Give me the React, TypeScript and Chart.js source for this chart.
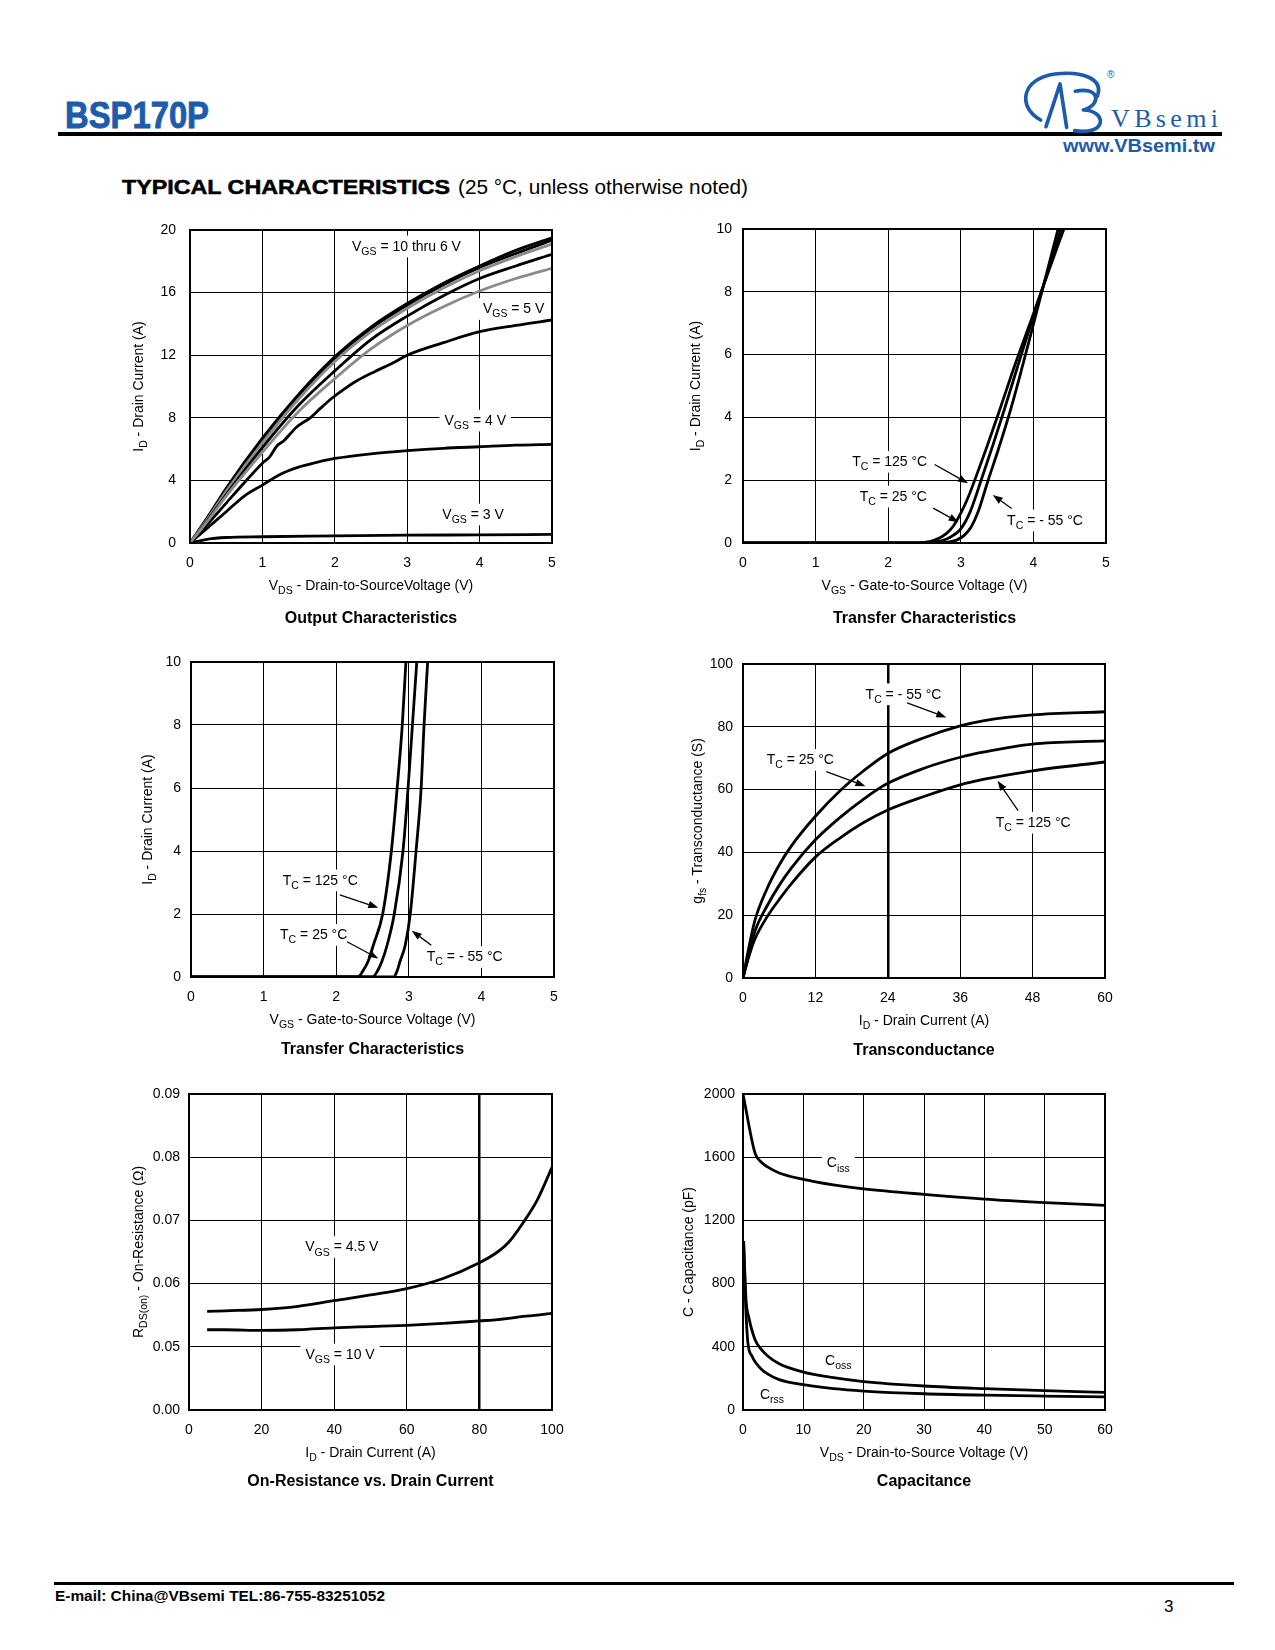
import React, { useEffect, useRef } from "react";
import { Chart, registerables } from "chart.js";

Chart.register(...registerables);

const FONT = '"Liberation Sans", Arial, Helvetica, sans-serif';
const BLUE = "#1d5cac";
const GRAY = "#8a8a8a";

// ================= 1. Output Characteristics =================
const OUT_X_AXIS = [0, 5, 1];
const OUT_Y_AXIS = [0, 20, 4];
const OUT_VDS = [0, 0.25, 0.5, 1, 1.5, 2, 2.5, 3, 3.5, 4, 4.5, 5];
const OUT_ID_10V = [0, 1.7, 3.5, 6.7, 9.5, 11.9, 13.8, 15.3, 16.6, 17.7, 18.7, 19.5];
const OUT_ID_8V = [0, 1.65, 3.4, 6.6, 9.4, 11.8, 13.7, 15.2, 16.5, 17.6, 18.5, 19.35];
const OUT_ID_7V = [0, 1.6, 3.3, 6.4, 9.2, 11.6, 13.5, 15.0, 16.3, 17.4, 18.3, 19.1];
const OUT_ID_6V = [0, 1.5, 3.1, 6.1, 8.8, 11.0, 13.0, 14.5, 15.8, 16.9, 17.7, 18.45];
const OUT_ID_55V = [0, 1.45, 3.0, 5.8, 8.4, 10.5, 12.4, 13.9, 15.1, 16.1, 16.9, 17.55];
const OUT_VDS_5V = [0, 0.28, 0.5, 0.74, 1.0, 1.1, 1.2, 1.3, 1.47, 1.66, 1.8, 1.96, 2.12, 2.3, 2.55, 2.8, 3.0, 3.5, 4.0, 4.5, 5.0];
const OUT_ID_5V = [0, 1.4, 2.55, 3.8, 5.1, 5.5, 6.2, 6.55, 7.4, 8.0, 8.6, 9.25, 9.8, 10.35, 10.95, 11.5, 12.0, 12.8, 13.5, 13.9, 14.25];
const OUT_VDS_4V = [0, 0.25, 0.5, 0.75, 1, 1.25, 1.5, 1.75, 2, 2.5, 3, 3.5, 4, 4.5, 5];
const OUT_ID_4V = [0, 1.0, 2.0, 3.0, 3.7, 4.4, 4.85, 5.15, 5.4, 5.7, 5.9, 6.05, 6.15, 6.25, 6.3];
const OUT_VDS_3V = [0, 0.25, 0.5, 1, 2, 3, 4, 5];
const OUT_ID_3V = [0, 0.25, 0.35, 0.4, 0.45, 0.5, 0.52, 0.55];

// ================= 2. Transfer Characteristics (top) =================
const TR1_X_AXIS = [0, 5, 1];
const TR1_Y_AXIS = [0, 10, 2];
const TR1_VGS_125 = [0, 2.3, 2.5, 2.65, 2.8, 2.9, 3.0, 3.1, 3.2, 3.35, 3.53, 3.75, 3.97, 4.2, 4.42];
const TR1_ID_125 = [0, 0, 0.02, 0.1, 0.3, 0.55, 0.95, 1.45, 2.05, 3.0, 4.2, 5.7, 7.1, 8.6, 10];
const TR1_VGS_25 = [0, 2.45, 2.65, 2.8, 2.9, 3.0, 3.13, 3.28, 3.44, 3.6, 3.78, 3.97, 4.18, 4.38];
const TR1_ID_25 = [0, 0, 0.03, 0.12, 0.25, 0.45, 1.0, 2.0, 3.1, 4.25, 5.6, 7.0, 8.5, 10];
const TR1_VGS_M55 = [0, 2.6, 2.8, 2.95, 3.05, 3.14, 3.24, 3.37, 3.52, 3.68, 3.84, 3.97, 4.15, 4.34];
const TR1_ID_M55 = [0, 0, 0.02, 0.1, 0.25, 0.5, 1.0, 1.95, 3.0, 4.2, 5.55, 6.7, 8.3, 10];

// ================= 3. Transfer Characteristics (middle) =================
const TR2_X_AXIS = [0, 5, 1];
const TR2_Y_AXIS = [0, 10, 2];
const TR2_ID = [0, 0, 0.2, 0.5, 1, 2, 4, 6, 8, 10];
const TR2_VGS_125 = [0, 2.3, 2.37, 2.44, 2.51, 2.64, 2.76, 2.84, 2.91, 2.96];
const TR2_VGS_25 = [0, 2.5, 2.57, 2.63, 2.7, 2.8, 2.92, 2.99, 3.05, 3.11];
const TR2_VGS_M55 = [0, 2.79, 2.84, 2.88, 2.95, 3.02, 3.1, 3.17, 3.21, 3.26];

// ================= 4. Transconductance =================
const GFS_X_AXIS = [0, 60, 12];
const GFS_Y_AXIS = [0, 100, 20];
const GFS_ID = [0, 1, 2, 4, 6, 8, 12, 16, 20, 24, 30, 36, 40, 48, 60];
const GFS_M55 = [0, 10, 18.5, 28.5, 36, 42, 51.5, 59.5, 66, 71.5, 76.5, 80.3, 82, 83.8, 84.8];
const GFS_25 = [0, 8, 15, 23, 29.5, 35, 44, 51, 57, 62, 66.8, 70.3, 72, 74.5, 75.5];
const GFS_125 = [0, 7, 12.5, 19.5, 25, 30, 38.5, 44.5, 49.5, 53.5, 57.8, 61.5, 63.3, 66, 68.8];

// ================= 5. On-Resistance vs. Drain Current =================
const RDS_X_AXIS = [0, 100, 20];
const RDS_Y_AXIS = [0.04, 0.09, 0.01];
const RDS_ID = [5, 10, 20, 30, 40, 50, 60, 70, 80, 85, 88, 92, 96, 100];
const RDS_45V = [0.0556, 0.0557, 0.0559, 0.0564, 0.0573, 0.0582, 0.0592, 0.0608, 0.0633, 0.065, 0.0665, 0.0696, 0.0733, 0.0784];
const RDS_10V = [0.0527, 0.0527, 0.0526, 0.0527, 0.053, 0.0532, 0.0534, 0.0537, 0.0541, 0.0543, 0.0545, 0.0548, 0.055, 0.0553];

// ================= 6. Capacitance =================
const CAP_X_AXIS = [0, 60, 10];
const CAP_Y_AXIS = [0, 2000, 400];
const CISS_V = [0, 2, 3, 4, 6, 10, 15, 20, 30, 40, 50, 60];
const CISS = [2000, 1625, 1570, 1540, 1500, 1460, 1425, 1400, 1365, 1335, 1313, 1295];
const COSS_V = [0.1, 0.5, 1, 2, 3, 4, 6, 10, 15, 20, 30, 40, 50, 60];
const COSS = [1070, 700, 580, 445, 385, 345, 292, 240, 205, 180, 152, 135, 122, 112];
const CRSS_V = [0.1, 0.4, 0.8, 1.5, 2, 3, 4, 6, 10, 15, 20, 30, 40, 50, 60];
const CRSS = [1070, 700, 430, 340, 305, 260, 230, 192, 160, 135, 120, 103, 94, 88, 83];

// ---------------- helpers ----------------
type Part = [string, boolean?];
interface Label { parts: Part[]; x: number; y: number; arrow?: number[]; bg?: boolean }
interface Series { xs: number[]; ys: number[]; color: string; width?: number }
interface Spec {
  box: number[];
  xAxis: number[];
  yAxis: number[];
  yFmt?: (v: number) => string;
  yPad: number;
  yTitleOff: number;
  titleOff: number;
  xTitle: Part[];
  yTitle: Part[];
  title: string;
  series: Series[];
  labels: Label[];
  thickX?: number;
}

const VGS = (rest: string): Part[] => [["V"], ["GS", true], [rest]];
const TC = (rest: string): Part[] => [["T"], ["C", true], [rest]];
const ID_TITLE: Part[] = [["I"], ["D", true], [" - Drain Current (A)"]];

function richWidth(ctx: any, parts: Part[], size: number) {
  let w = 0;
  for (const [t, sub] of parts) {
    ctx.font = `${sub ? size * 0.75 : size}px ${FONT}`;
    w += ctx.measureText(t).width;
  }
  return w;
}

function drawRich(ctx: any, parts: Part[], cx: number, cy: number, size: number, bg: boolean) {
  const w = richWidth(ctx, parts, size);
  let x = cx - w / 2;
  const base = cy + size * 0.36;
  if (bg) {
    ctx.fillStyle = "#fff";
    ctx.fillRect(x - 5, cy - size * 0.72, w + 10, size * 1.55);
  }
  ctx.fillStyle = "#000";
  ctx.textAlign = "left";
  ctx.textBaseline = "alphabetic";
  for (const [t, sub] of parts) {
    ctx.font = `${sub ? size * 0.75 : size}px ${FONT}`;
    ctx.fillText(t, x, sub ? base + size * 0.3 : base);
    x += ctx.measureText(t).width;
  }
}

function drawArrow(ctx: any, x1: number, y1: number, x2: number, y2: number) {
  const ang = Math.atan2(y2 - y1, x2 - x1);
  const hl = 10, hw = 3.6;
  const bx = x2 - hl * Math.cos(ang), by = y2 - hl * Math.sin(ang);
  ctx.strokeStyle = "#000";
  ctx.lineWidth = 1.3;
  ctx.beginPath();
  ctx.moveTo(x1, y1);
  ctx.lineTo(bx, by);
  ctx.stroke();
  ctx.fillStyle = "#000";
  ctx.beginPath();
  ctx.moveTo(x2, y2);
  ctx.lineTo(bx + hw * Math.sin(ang), by - hw * Math.cos(ang));
  ctx.lineTo(bx - hw * Math.sin(ang), by + hw * Math.cos(ang));
  ctx.closePath();
  ctx.fill();
}

const S = (xs: number[], ys: number[], color = "#000", width = 2.8): Series => ({ xs, ys, color, width });

const SPECS: Spec[] = [
  {
    box: [190, 230, 552, 543],
    xAxis: OUT_X_AXIS,
    yAxis: OUT_Y_AXIS,
    yPad: 14,
    yTitleOff: 52,
    titleOff: 76,
    xTitle: [["V"], ["DS", true], [" - Drain-to-SourceVoltage (V)"]],
    yTitle: ID_TITLE,
    title: "Output Characteristics",
    series: [
      S(OUT_VDS, OUT_ID_55V, GRAY),
      S(OUT_VDS, OUT_ID_6V),
      S(OUT_VDS, OUT_ID_7V, GRAY),
      S(OUT_VDS, OUT_ID_8V),
      S(OUT_VDS, OUT_ID_10V),
      S(OUT_VDS_5V, OUT_ID_5V),
      S(OUT_VDS_4V, OUT_ID_4V),
      S(OUT_VDS_3V, OUT_ID_3V),
    ],
    labels: [
      { parts: VGS(" = 10 thru 6 V"), x: 2.99, y: 19.0 },
      { parts: VGS(" = 5 V"), x: 4.47, y: 15.0 },
      { parts: VGS(" = 4 V"), x: 3.94, y: 7.87 },
      { parts: VGS(" = 3 V"), x: 3.91, y: 1.87 },
    ],
  },
  {
    box: [743, 229, 1106, 543],
    xAxis: TR1_X_AXIS,
    yAxis: TR1_Y_AXIS,
    yPad: 11,
    yTitleOff: 48,
    titleOff: 76,
    xTitle: [["V"], ["GS", true], [" - Gate-to-Source Voltage (V)"]],
    yTitle: ID_TITLE,
    title: "Transfer Characteristics",
    series: [S(TR1_VGS_125, TR1_ID_125), S(TR1_VGS_25, TR1_ID_25), S(TR1_VGS_M55, TR1_ID_M55)],
    labels: [
      { parts: TC(" = 125 \u00B0C"), x: 2.02, y: 2.61, arrow: [2.64, 2.5, 3.1, 1.9] },
      { parts: TC(" = 25 \u00B0C"), x: 2.07, y: 1.5, arrow: [2.62, 1.11, 2.97, 0.66] },
      { parts: TC(" = - 55 \u00B0C"), x: 4.16, y: 0.74, arrow: [3.7, 1.1, 3.44, 1.53] },
    ],
  },
  {
    box: [191, 662, 554, 977],
    xAxis: TR2_X_AXIS,
    yAxis: TR2_Y_AXIS,
    yPad: 10,
    yTitleOff: 44,
    titleOff: 73,
    xTitle: [["V"], ["GS", true], [" - Gate-to-Source Voltage (V)"]],
    yTitle: ID_TITLE,
    title: "Transfer Characteristics",
    series: [S(TR2_VGS_125, TR2_ID), S(TR2_VGS_25, TR2_ID), S(TR2_VGS_M55, TR2_ID)],
    labels: [
      { parts: TC(" = 125 \u00B0C"), x: 1.78, y: 3.09, arrow: [2.05, 2.61, 2.58, 2.2] },
      { parts: TC(" = 25 \u00B0C"), x: 1.69, y: 1.36, arrow: [2.15, 1.12, 2.58, 0.59] },
      { parts: TC(" = - 55 \u00B0C"), x: 3.77, y: 0.66, arrow: [3.31, 1.01, 3.04, 1.47] },
    ],
  },
  {
    box: [743, 664, 1105, 978],
    xAxis: GFS_X_AXIS,
    yAxis: GFS_Y_AXIS,
    yPad: 10,
    yTitleOff: 46,
    titleOff: 73,
    xTitle: ID_TITLE,
    yTitle: [["g"], ["fs", true], [" - Transconductance (S)"]],
    title: "Transconductance",
    thickX: 24,
    series: [S(GFS_ID, GFS_M55), S(GFS_ID, GFS_25), S(GFS_ID, GFS_125)],
    labels: [
      { parts: TC(" = - 55 \u00B0C"), x: 26.6, y: 90.6, arrow: [27.2, 87.6, 33.7, 83.0] },
      { parts: TC(" = 25 \u00B0C"), x: 9.5, y: 69.7, arrow: [13.8, 65.7, 20.3, 61.1] },
      { parts: TC(" = 125 \u00B0C"), x: 48.1, y: 49.7, arrow: [45.6, 53.3, 42.2, 62.8] },
    ],
  },
  {
    box: [189, 1094, 552, 1410],
    xAxis: RDS_X_AXIS,
    yAxis: RDS_Y_AXIS,
    yFmt: (v: number) => (Math.abs(v - RDS_Y_AXIS[0]) < 1e-9 ? "0.00" : v.toFixed(2)),
    yPad: 9,
    yTitleOff: 51,
    titleOff: 72,
    xTitle: ID_TITLE,
    yTitle: [["R"], ["DS(on)", true], [" - On-Resistance (\u03A9)"]],
    title: "On-Resistance vs. Drain Current",
    thickX: 80,
    series: [S(RDS_ID, RDS_45V), S(RDS_ID, RDS_10V)],
    labels: [
      { parts: VGS(" = 4.5 V"), x: 42.1, y: 0.0659 },
      { parts: VGS(" = 10 V"), x: 41.6, y: 0.0489 },
    ],
  },
  {
    box: [743, 1094, 1105, 1410],
    xAxis: CAP_X_AXIS,
    yAxis: CAP_Y_AXIS,
    yPad: 8,
    yTitleOff: 55,
    titleOff: 72,
    xTitle: [["V"], ["DS", true], [" - Drain-to-Source Voltage (V)"]],
    yTitle: [["C - Capacitance (pF)"]],
    title: "Capacitance",
    series: [S(CISS_V, CISS), S(COSS_V, COSS), S(CRSS_V, CRSS)],
    labels: [
      { parts: [["C"], ["iss", true]], x: 15.8, y: 1567 },
      { parts: [["C"], ["oss", true]], x: 15.8, y: 317 },
      { parts: [["C"], ["rss", true]], x: 4.8, y: 104 },
    ],
  },
];

const PL = 90, PR = 30, PT = 30, PB = 100, XH = 34;

function Panel({ spec }: { spec: Spec }) {
  const ref = useRef<HTMLCanvasElement | null>(null);
  const [l, t, r, b] = spec.box;
  const W = r - l + PL + PR;
  const H = b - t + PT + PB;

  useEffect(() => {
    const canvas = ref.current;
    if (!canvas) return;
    const plugin = {
      id: "panelDecor",
      beforeDatasetsDraw(chart: any) {
        const ctx = chart.ctx, xs = chart.scales.x, ys = chart.scales.y;
        ctx.save();
        spec.labels.forEach((a) =>
          drawRich(ctx, a.parts, xs.getPixelForValue(a.x), ys.getPixelForValue(a.y), 14, a.bg !== false)
        );
        ctx.restore();
      },
      afterDatasetsDraw(chart: any) {
        const ctx = chart.ctx, xs = chart.scales.x, ys = chart.scales.y, ca = chart.chartArea;
        ctx.save();
        spec.labels.forEach((a) => {
          if (a.arrow)
            drawArrow(
              ctx,
              xs.getPixelForValue(a.arrow[0]),
              ys.getPixelForValue(a.arrow[1]),
              xs.getPixelForValue(a.arrow[2]),
              ys.getPixelForValue(a.arrow[3])
            );
        });
        ctx.strokeStyle = "#000";
        ctx.lineWidth = 2;
        ctx.strokeRect(ca.left, ca.top, ca.right - ca.left, ca.bottom - ca.top);
        ctx.restore();
      },
      afterDraw(chart: any) {
        const ctx = chart.ctx, ca = chart.chartArea;
        const cx = (ca.left + ca.right) / 2, cy = (ca.top + ca.bottom) / 2;
        ctx.save();
        drawRich(ctx, spec.xTitle, cx, ca.bottom + 42, 14, false);
        ctx.font = `bold 16px ${FONT}`;
        ctx.textAlign = "center";
        ctx.textBaseline = "middle";
        ctx.fillStyle = "#000";
        ctx.fillText(spec.title, cx, ca.bottom + spec.titleOff);
        ctx.translate(ca.left - spec.yTitleOff, cy);
        ctx.rotate(-Math.PI / 2);
        drawRich(ctx, spec.yTitle, 0, 0, 14, false);
        ctx.restore();
      },
    };

    const tickFont = { family: FONT, size: 14 };
    const chart = new Chart(canvas, {
      type: "line",
      data: {
        datasets: spec.series.map((s) => ({
          data: s.xs.map((x, i) => ({ x, y: s.ys[i] })),
          borderColor: s.color,
          borderWidth: s.width,
          pointRadius: 0,
          fill: false,
          cubicInterpolationMode: "monotone",
          tension: 0,
        })),
      },
      options: {
        responsive: false,
        maintainAspectRatio: false,
        animation: false,
        events: [],
        layout: { padding: { left: 0, right: PR, top: PT, bottom: PB - XH } },
        plugins: { legend: { display: false }, tooltip: { enabled: false }, title: { display: false } },
        scales: {
          x: {
            type: "linear",
            min: spec.xAxis[0],
            max: spec.xAxis[1],
            ticks: {
              stepSize: spec.xAxis[2],
              color: "#000",
              font: tickFont,
              padding: 12,
              maxRotation: 0,
              autoSkip: false,
              callback: (v: any) => String(Math.round(Number(v) * 1000) / 1000),
            },
            grid: {
              color: "#000",
              lineWidth: (c: any) => (c.tick && spec.thickX !== undefined && Math.abs(c.tick.value - spec.thickX) < 1e-9 ? 2.5 : 1),
              drawTicks: false,
            },
            border: { display: false },
            afterFit: (s: any) => {
              s.height = XH;
            },
          },
          y: {
            type: "linear",
            min: spec.yAxis[0],
            max: spec.yAxis[1],
            ticks: {
              stepSize: spec.yAxis[2],
              color: "#000",
              font: tickFont,
              padding: spec.yPad,
              autoSkip: false,
              callback: (v: any) => (spec.yFmt ? spec.yFmt(Number(v)) : String(Math.round(Number(v) * 1000) / 1000)),
            },
            grid: { color: "#000", lineWidth: 1, drawTicks: false },
            border: { display: false },
            afterFit: (s: any) => {
              s.width = PL;
            },
          },
        },
      } as any,
      plugins: [plugin as any],
    } as any);
    return () => chart.destroy();
  }, [spec]);

  return (
    <canvas
      ref={ref}
      width={W}
      height={H}
      style={{ position: "absolute", left: l - PL, top: t - PT, width: W, height: H }}
    />
  );
}

export default function App() {
  return (
    <div style={{ position: "absolute", left: 0, top: 0, width: 1275, height: 1650, background: "#fff", overflow: "hidden" }}>
      <svg width={1275} height={210} style={{ position: "absolute", left: 0, top: 0 }}>
        <text x={65} y={128} fontFamily={FONT} fontWeight="bold" fontSize={37} fill={BLUE} stroke={BLUE} strokeWidth={0.9} textLength={144} lengthAdjust="spacingAndGlyphs">
          BSP170P
        </text>
        <rect x={58} y={132} width={1164} height={4} fill="#000" />
        <g transform="translate(1010,60) scale(0.3333)" fill="none" stroke={BLUE} strokeWidth={11} strokeLinecap="round" strokeLinejoin="round">
          <path d="M 92 180 C 20 140, 35 55, 135 42 C 215 33, 282 55, 262 108" />
          <path d="M 108 200 L 150 72 L 170 202" />
          <path d="M 196 94 C 262 78, 282 130, 220 150 C 292 152, 292 228, 194 212" />
        </g>
        <text x={1107} y={78} fontFamily={FONT} fontSize={10} fill={BLUE}>®</text>
        <text x={1111} y={127} fontFamily='"Liberation Serif", "DejaVu Serif", serif' fontSize={26} fill={BLUE} textLength={107} lengthAdjust="spacing">
          VBsemi
        </text>
        <text x={1063} y={152} fontFamily={FONT} fontWeight="bold" fontSize={18} fill={BLUE} textLength={152} lengthAdjust="spacingAndGlyphs">
          www.VBsemi.tw
        </text>
        <text x={122} y={194} fontFamily={FONT} fontWeight="bold" fontSize={20} fill="#000" stroke="#000" strokeWidth={0.5} textLength={328} lengthAdjust="spacingAndGlyphs">
          TYPICAL CHARACTERISTICS
        </text>
        <text x={458} y={194} fontFamily={FONT} fontSize={20} fill="#000" textLength={290} lengthAdjust="spacingAndGlyphs">
          (25 °C, unless otherwise noted)
        </text>
      </svg>

      {SPECS.map((s, i) => (
        <Panel key={i} spec={s} />
      ))}

      <svg width={1275} height={80} style={{ position: "absolute", left: 0, top: 1570 }}>
        <rect x={54} y={12} width={1180} height={3} fill="#000" />
        <text x={55} y={31} fontFamily={FONT} fontWeight="bold" fontSize={14} fill="#000" textLength={330} lengthAdjust="spacingAndGlyphs">
          E-mail: China@VBsemi   TEL:86-755-83251052
        </text>
        <text x={1164} y={42} fontFamily={FONT} fontSize={17} fill="#000">
          3
        </text>
      </svg>
    </div>
  );
}
